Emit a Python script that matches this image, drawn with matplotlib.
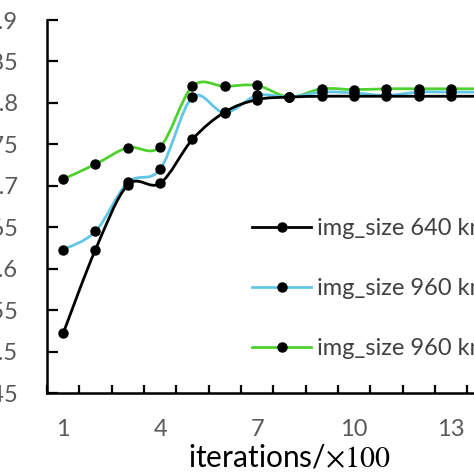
import numpy as np
import matplotlib.pyplot as plt
from matplotlib.path import Path
from matplotlib.patches import PathPatch
from matplotlib.lines import Line2D

# datos (iteraciones x100)
iteraciones = [1, 2, 3, 4, 5, 6, 7, 8, 9, 10, 11, 12, 13, 14]
map_640 = [0.522, 0.623, 0.701, 0.703, 0.756, 0.789, 0.804, 0.807, 0.808, 0.808, 0.808, 0.808, 0.808, 0.808]
map_960 = [0.623, 0.645, 0.704, 0.720, 0.807, 0.788, 0.809, 0.807, 0.813, 0.812, 0.809, 0.813, 0.813, 0.813]
map_960b = [0.708, 0.726, 0.746, 0.747, 0.820, 0.820, 0.821, 0.807, 0.817, 0.816, 0.817, 0.817, 0.817, 0.817]
etiquetas = ['img_size 640 kmeans', 'img_size 960 kmeans', 'img_size 960 kmeans++']
colores = ['#000000', '#62C6E6', '#4FD22F']

plt.rcParams['font.family'] = ['Lato', 'DejaVu Sans']
plt.rcParams['mathtext.fontset'] = 'stix'

fig = plt.figure(figsize=(4.74, 4.74), dpi=100)
ax = fig.add_axes([47 / 474, 81 / 474, 427 / 474, 373 / 474])


def curva_suave(x, y):
    # linea suavizada tipo Excel (bezier por tramos)
    x = np.asarray(x, float)
    y = np.asarray(y, float)
    verts = [(x[0], y[0])]
    codes = [Path.MOVETO]
    n = len(x)
    for i in range(n - 1):
        x0, y0 = (x[i - 1], y[i - 1]) if i > 0 else (x[i], y[i])
        x3, y3 = (x[i + 2], y[i + 2]) if i + 2 < n else (x[i + 1], y[i + 1])
        c1 = (x[i] + (x[i + 1] - x0) / 6, y[i] + (y[i + 1] - y0) / 6)
        c2 = (x[i + 1] - (x3 - x[i]) / 6, y[i + 1] - (y3 - y[i]) / 6)
        verts += [c1, c2, (x[i + 1], y[i + 1])]
        codes += [Path.CURVE4] * 3
    return Path(verts, codes)


for serie, color in zip([map_640, map_960, map_960b][::-1], colores[::-1]):
    ax.add_patch(PathPatch(curva_suave(iteraciones, serie), facecolor='none',
                           edgecolor=color, linewidth=2.0, zorder=2))
for serie in [map_640, map_960, map_960b]:
    ax.plot(iteraciones, serie, 'o', color='black', markersize=6.5, zorder=3)

ax.set_xlim(0.5, 13.71)
ax.set_ylim(0.45, 0.9)

for lado in ['top', 'right']:
    ax.spines[lado].set_visible(False)
for lado in ['left', 'bottom']:
    ax.spines[lado].set_linewidth(1.8)

ax.set_yticks(np.arange(0.45, 0.901, 0.05))
ax.set_yticklabels(['0.45', '0.5', '0.55', '0.6', '0.65', '0.7', '0.75', '0.8', '0.85', '0.9'])
ax.tick_params(axis='y', direction='in', length=8, width=1.6, pad=21,
               labelsize=17, labelcolor='#595959')

ax.set_xticks([1, 4, 7, 10, 13])
ax.set_xticks(np.arange(0.5, 14, 1), minor=True)
ax.tick_params(axis='x', which='major', length=0, pad=19, labelsize=17, labelcolor='#595959')
ax.tick_params(axis='x', which='minor', direction='in', length=6, width=1.6)

fig.text(289 / 474, 3 / 474, 'iterations/$\\times\\mathrm{100}$', ha='center', va='bottom',
         fontsize=21.5, color='black')

handles = [Line2D([], [], color=c, linewidth=2.0, marker='o', markersize=6.5,
                  markerfacecolor='black', markeredgecolor='black') for c in colores]
ax.legend(handles, etiquetas, loc='upper left', bbox_to_anchor=(252 / 474, 1 - 218 / 474),
          bbox_transform=fig.transFigure, frameon=False, fontsize=17,
          handlelength=2.5, handletextpad=0.25, labelspacing=1.65, labelcolor='#404040',
          borderaxespad=0, borderpad=0)

fig.savefig('out.png', dpi=100)
